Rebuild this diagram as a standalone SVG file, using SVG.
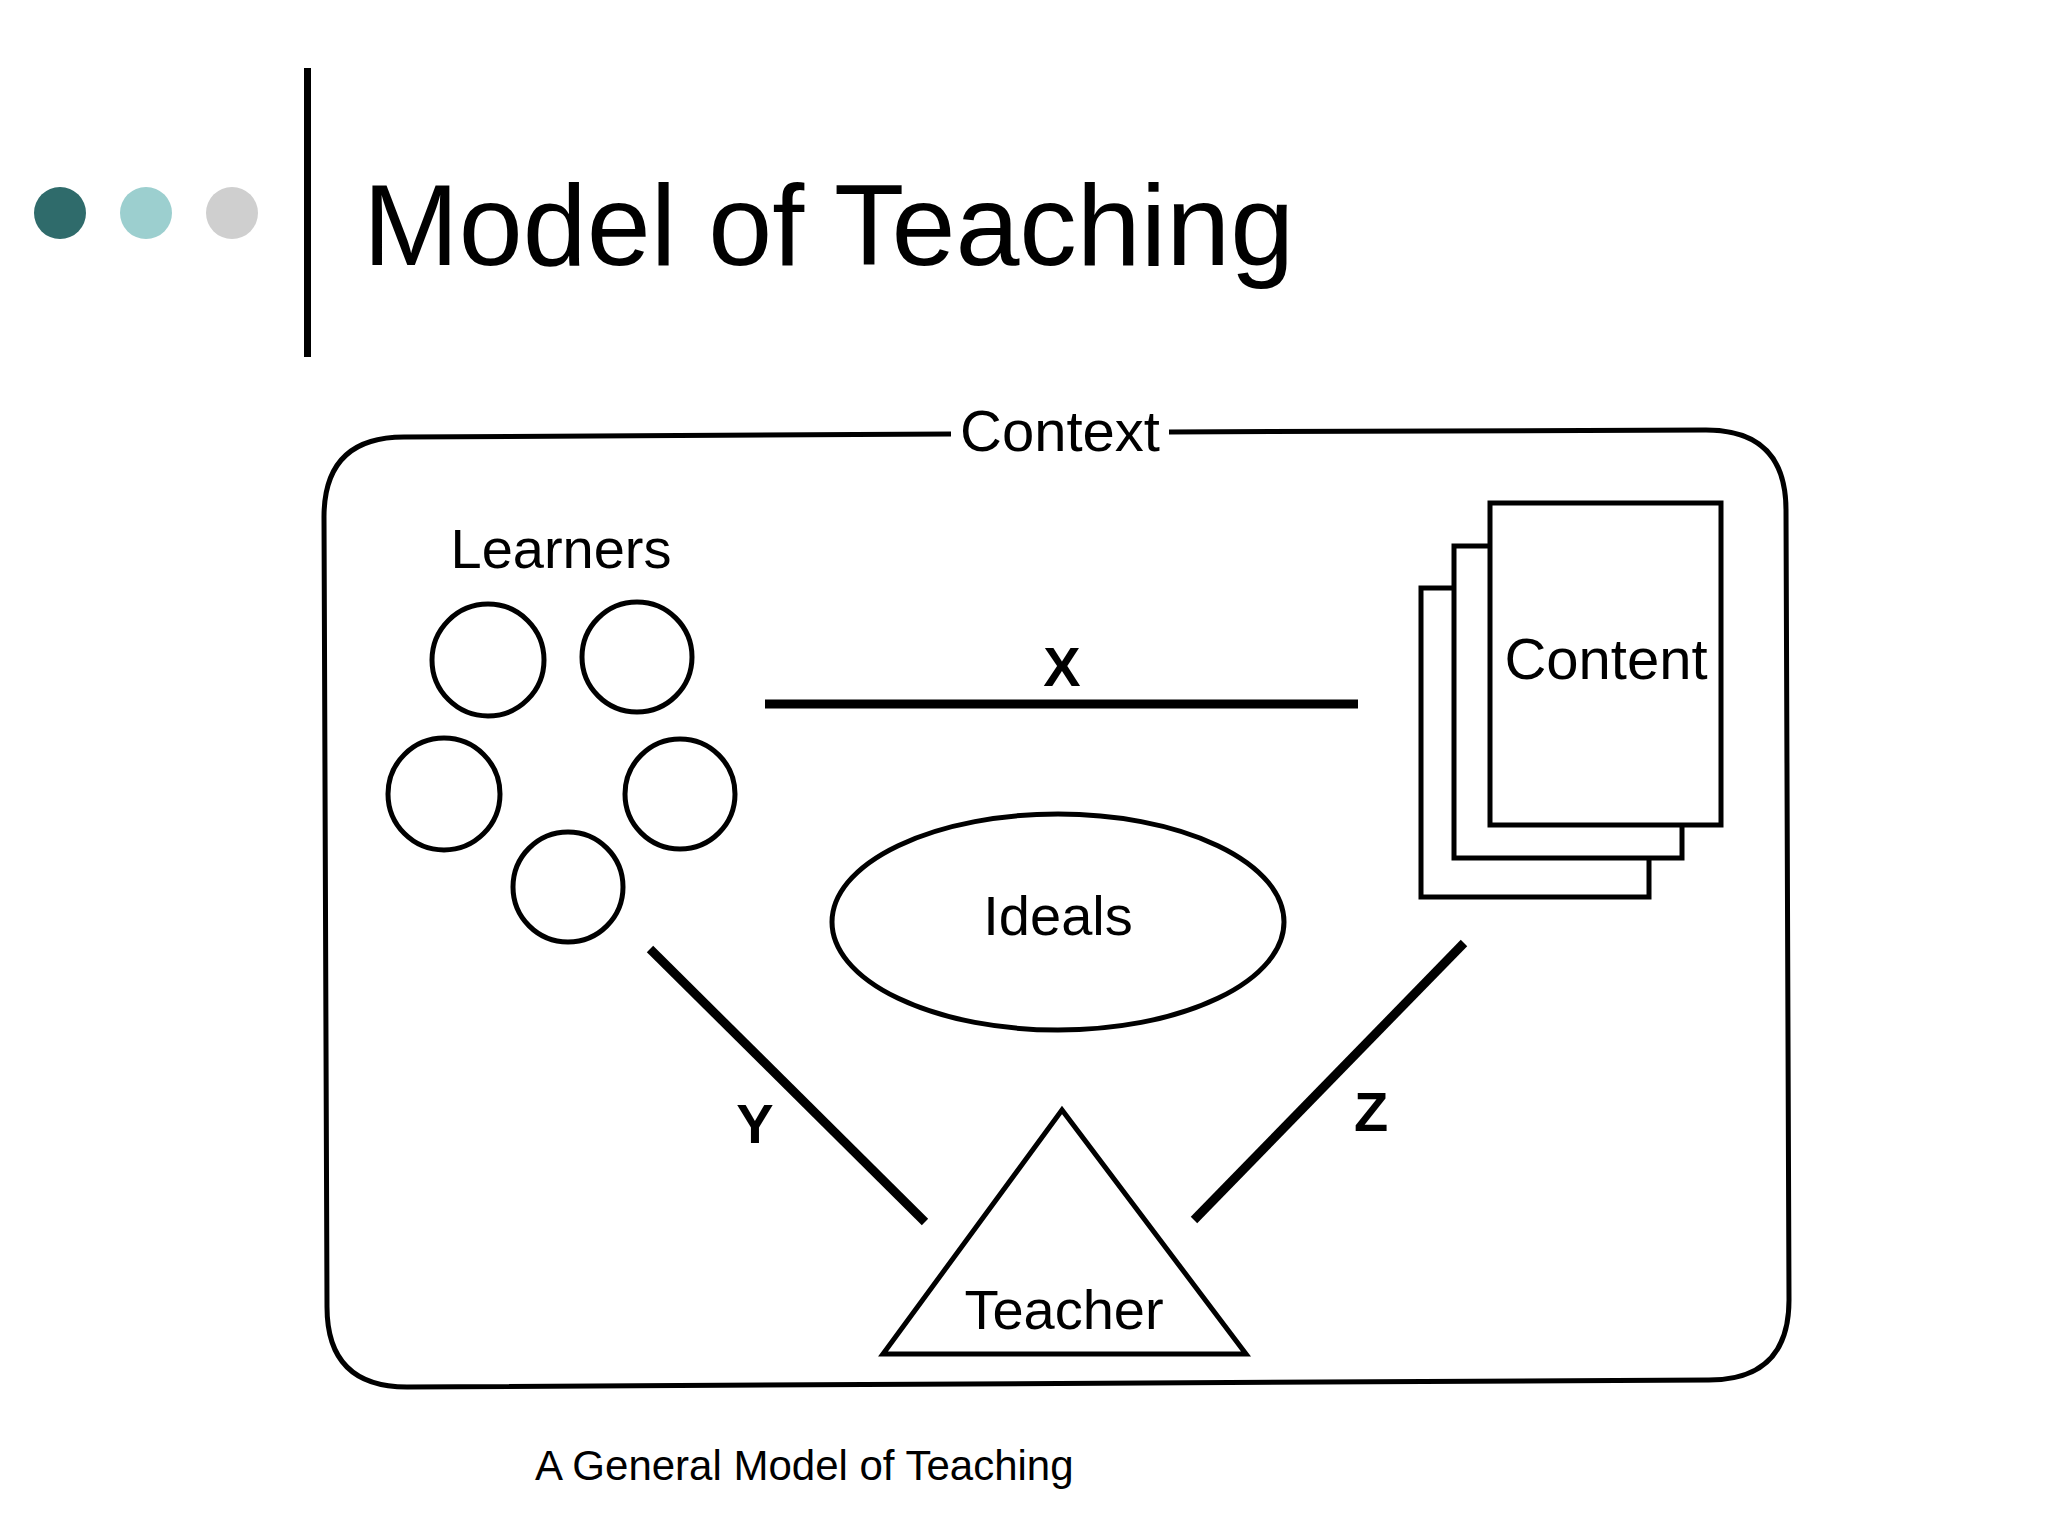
<svg xmlns="http://www.w3.org/2000/svg" width="2048" height="1536" viewBox="0 0 2048 1536">
<style>
.t{font-family:"Liberation Sans",Arial,sans-serif;fill:#000}
.s{fill:none;stroke:#000;stroke-width:5}
.w{fill:#fff;stroke:#000;stroke-width:5}
.l{stroke:#000;stroke-width:9}
</style>
<rect width="2048" height="1536" fill="#fff"/>
<g id="header">
<circle cx="60" cy="213" r="26" fill="#2f6b6b"/>
<circle cx="146" cy="213" r="26" fill="#9ccfcf"/>
<circle cx="232" cy="213" r="26" fill="#cfcfcf"/>
<rect x="304" y="68" width="7" height="289" fill="#000"/>
<text class="t" x="363" y="265" font-size="115">Model of Teaching</text>
</g>
<g id="context">
<path class="s" d="M951,434 L404,437 Q324,437 324,517 L327,1307 Q327,1387 407,1387 L1709,1380 Q1789,1380 1789,1300 L1786,510 Q1786,430 1706,430 L1169,432"/>
<text class="t" x="1060" y="451" font-size="58" text-anchor="middle">Context</text>
</g>
<g id="learners">
<text class="t" x="561" y="568" font-size="56" text-anchor="middle">Learners</text>
<circle class="s" cx="488" cy="660" r="56"/>
<circle class="s" cx="637" cy="657" r="55"/>
<circle class="s" cx="444" cy="794" r="56"/>
<circle class="s" cx="680" cy="794" r="55"/>
<circle class="s" cx="568" cy="887" r="55"/>
</g>
<g id="content">
<rect class="w" x="1421" y="588" width="228" height="309"/>
<rect class="w" x="1454" y="546" width="228" height="312"/>
<rect class="w" x="1490" y="503" width="231" height="322"/>
<text class="t" x="1606" y="679" font-size="58" text-anchor="middle">Content</text>
</g>
<g id="ideals">
<ellipse class="s" cx="1058" cy="922" rx="226" ry="108"/>
<text class="t" x="1058" y="935" font-size="56" text-anchor="middle">Ideals</text>
</g>
<g id="teacher">
<polygon class="s" points="1062,1110 883,1354 1246,1354"/>
<text class="t" x="1064" y="1329" font-size="56" text-anchor="middle">Teacher</text>
</g>
<g id="connectors">
<line class="l" x1="765" y1="704" x2="1358" y2="704"/>
<line class="l" x1="650" y1="949" x2="925" y2="1222"/>
<line class="l" x1="1464" y1="943" x2="1194" y2="1220"/>
<text class="t" x="1062" y="686" font-size="56" font-weight="bold" text-anchor="middle">X</text>
<text class="t" x="755" y="1143" font-size="56" font-weight="bold" text-anchor="middle">Y</text>
<text class="t" x="1371" y="1131" font-size="56" font-weight="bold" text-anchor="middle">Z</text>
</g>
<text class="t" x="535" y="1480" font-size="42">A General Model of Teaching</text>
</svg>
